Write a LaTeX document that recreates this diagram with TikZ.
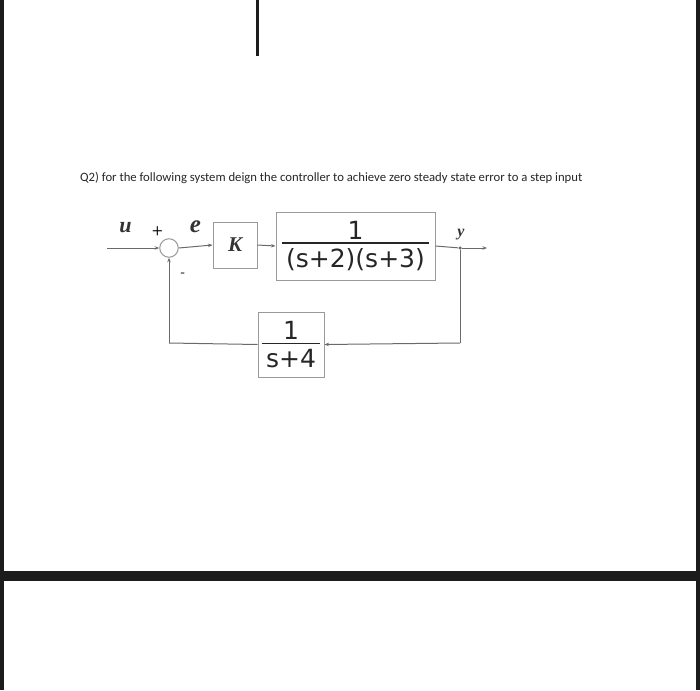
\documentclass[tikz,border=0pt]{standalone}
\usepackage{fontspec}
\setmainfont{Liberation Serif}
\newfontfamily\qfont{Carlito}
\newfontfamily\tffont{DejaVu Sans}
\usetikzlibrary{arrows.meta}
\definecolor{framegray}{HTML}{1C1C1C}
\definecolor{linegray}{HTML}{6A6A6A}
\definecolor{boxgray}{HTML}{9A9A9A}
\newcommand{\blkfrac}[2]{{\renewcommand{\arraystretch}{0}\setlength{\arrayrulewidth}{1.3pt}%
  \begin{tabular}{@{\,}c@{\,}}#1\\[3pt]\hline\noalign{\vskip5pt}#2\end{tabular}}}
\tikzset{
  blk/.style={draw=boxgray, line width=1pt, inner sep=0pt},
  tf/.style={blk, font=\tffont\fontsize{25}{28}\selectfont, text=black!85},
  sig/.style={draw=linegray, line width=1pt},
  sigarr/.style={sig, -{Stealth[length=4.5pt,width=3.5pt]}},
  lbl/.style={font=\fontsize{22}{24}\selectfont\bfseries\itshape, text=black!80, inner sep=0pt},
  sgn/.style={font=\fontsize{13}{14}\selectfont\bfseries\sffamily, inner sep=0pt}
}
\begin{document}
\begin{tikzpicture}[x=1pt,y=-1pt]
\useasboundingbox (0,0) rectangle (700,690);
\fill[framegray] (0,0) rectangle (3.5,690);
\fill[framegray] (696,0) rectangle (700,690);
\fill[framegray] (0,571) rectangle (700,581);
\fill[framegray] (255.5,0) rectangle (258.5,56);
\node[font=\qfont\fontsize{12.7}{14}\selectfont, text=black!85, anchor=west, inner sep=0pt] (quest) at (80,178){Q2) for the following system deign the controller to achieve zero steady state error to a step input};
\node[circle, draw=boxgray, line width=1pt, minimum size=18.5pt, inner sep=0pt] (sum) at (169,248){};
\node[blk, minimum width=44pt, minimum height=46pt, font=\fontsize{21}{22}\selectfont\bfseries\itshape, text=black!80] (K) at (235,245){K};
\node[tf, minimum width=159pt, minimum height=68pt] (G) at (355.5,246){\blkfrac{1}{(s+2)(s+3)}};
\node[tf, minimum width=66pt, minimum height=65pt] (H) at (291,344.5){\blkfrac{1}{s+4}};
\node[circle, fill=linegray, inner sep=0pt, minimum size=3.5pt] (dot) at (460,248){};
\coordinate (uin) at (107,248);
\coordinate (yout) at (487,248);
\coordinate (fbr) at (460,343);
\coordinate (fbl) at (169,343);
\node[lbl] (ul) at (125.5,228){u};
\node[lbl, font=\fontsize{25}{26}\selectfont\bfseries\itshape] (el) at (195.5,227){e};
\node[lbl, font=\fontsize{16}{18}\selectfont\bfseries\itshape] (yl) at (461,235){y};
\node[sgn] (plus) at (157.5,231){+};
\node[sgn] (minus) at (183,275){-};
\draw[sigarr](uin) -- (sum.west);
\draw[sigarr](sum.east) -- (K.west);
\draw[sigarr](K.east) -- (G.west);
\draw[sig](G.east) -- (dot);
\draw[sigarr](dot) -- (yout);
\draw[sig](dot) -- (fbr);
\draw[sigarr](fbr) -- (H.east);
\draw[sig](H.west) -- (fbl);
\draw[sigarr](fbl) -- (sum.south);
\end{tikzpicture}
\end{document}
